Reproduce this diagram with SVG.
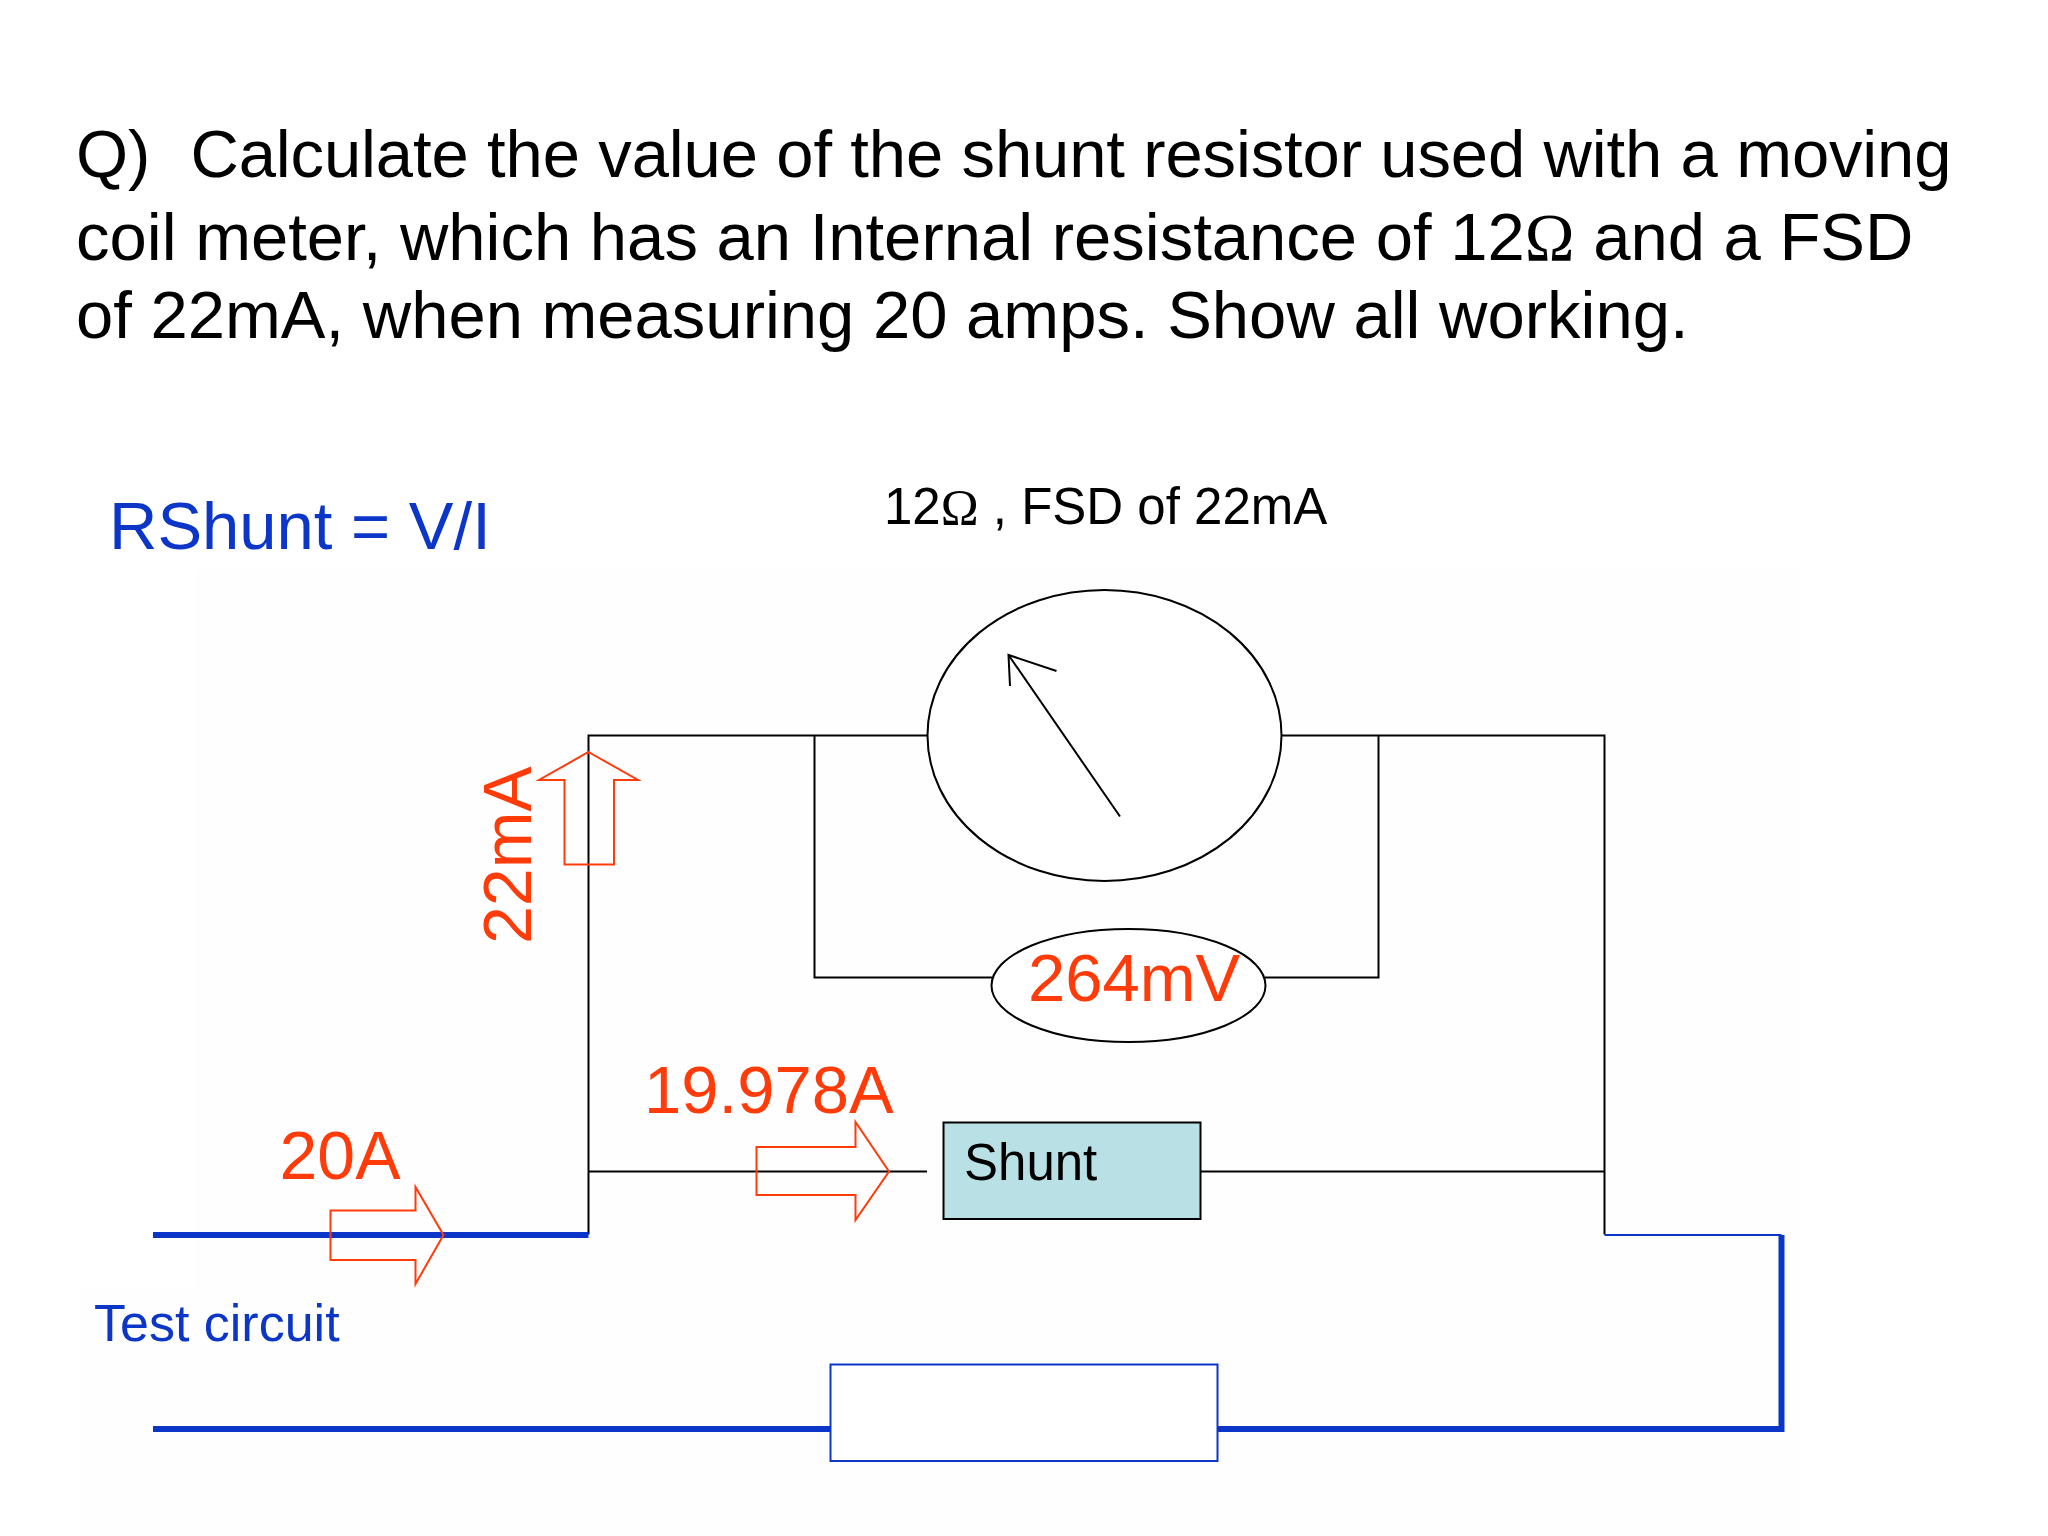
<svg xmlns="http://www.w3.org/2000/svg" width="2048" height="1536" viewBox="0 0 2048 1536">
<style>
text{font-family:"Liberation Sans",Arial,sans-serif}
.t{font-size:67px;fill:#000}
.o{font-family:"Liberation Serif","Times New Roman",serif}
.r{font-size:67px;fill:#ff3b0a}
.b{fill:#0b36c8}
.s{font-size:51px}
.w{fill:none;stroke:#000;stroke-width:2}
.sh{fill:#fff;stroke:#000;stroke-width:2}
.tb{fill:none;stroke:#0b36c8;stroke-width:6}
.tn{fill:none;stroke:#0b36c8;stroke-width:2}
.a{fill:none;stroke:#ff3b0a;stroke-width:2}
</style>
<rect width="2048" height="1536" fill="#fff"/>
<path d="M195 570H1800V1536H80V1290H195Z" fill="#fefefe"/>
<g id="question">
<text class="t" x="76" y="177">Q)</text>
<text class="t" x="190.500" y="177" textLength="1761" lengthAdjust="spacing">Calculate the value of the shunt resistor used with a moving</text>
<text class="t" x="76" y="260">coil meter, which has an Internal resistance of 12<tspan class="o">Ω</tspan> and a FSD</text>
<text class="t" x="76" y="338">of 22mA, when measuring 20 amps. Show all working.</text>
</g>
<text id="formula" class="b" x="109" y="549" font-size="67">RShunt = V/I</text>
<text id="meter-spec" x="884" y="524" font-size="51">12<tspan class="o">Ω</tspan> , FSD of 22mA</text>
<g id="connectors">
<path class="w" d="M588.500 1234.500V735.500H927.500M1281.500 735.500H1604.500V1234.500"/>
<path class="w" d="M814.500 735.500V977.500H992M1378.500 735.500V977.500H1265"/>
<path class="w" d="M588.500 1171.500H927M1200.500 1171.500H1604.500"/>
<path class="tb" d="M153 1235H588.500M153 1429H830M1217.500 1429H1781.500V1235"/>
<path class="tn" d="M1604.500 1235H1781.500"/>
</g>
<g id="meter">
<ellipse class="sh" cx="1104.500" cy="735.500" rx="177" ry="145.500"/>
<path class="w" d="M1120 816.500L1008.500 655M1056.500 671L1008.500 655L1010 686"/>
</g>
<g id="voltage">
<ellipse class="sh" cx="1128.500" cy="985.500" rx="137" ry="56.500"/>
<text class="r" x="1028" y="1001">264mV</text>
</g>
<g id="shunt">
<rect x="943.500" y="1122.500" width="257" height="96.500" fill="#b9e0e5" stroke="#000" stroke-width="2"/>
<text class="s" x="964" y="1180">Shunt</text>
</g>
<g id="load"><rect x="830.500" y="1364.500" width="387" height="96.500" fill="#fff" stroke="#0b36c8" stroke-width="2"/></g>
<g id="arrow-22ma">
<path class="a" d="M588.500 752L638 780H614V864.500H564.500V780H539Z"/>
<text class="r" transform="translate(531 944) rotate(-90)" style="font-size:68px">22mA</text>
</g>
<g id="arrow-19a">
<path class="a" d="M756.500 1147H855.500V1122L889 1171.500L855.500 1220V1195H756.500Z"/>
<text class="r" x="644" y="1113">19.978A</text>
</g>
<g id="arrow-20a">
<path class="a" d="M330.500 1210.500H415.500V1187L443.500 1235L415.500 1284V1260H330.500Z"/>
<text class="r" x="279.500" y="1179" style="font-size:68px">20A</text>
</g>
<text id="test-circuit" class="b" x="94" y="1341" font-size="52">Test circuit</text>
</svg>
